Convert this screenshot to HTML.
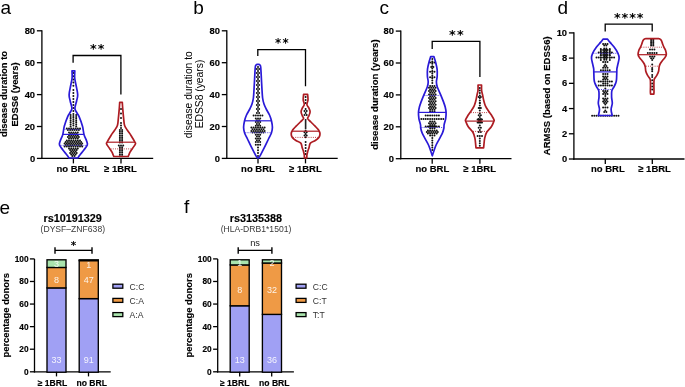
<!DOCTYPE html>
<html><head><meta charset="utf-8"><title>Figure</title>
<style>
html,body{margin:0;padding:0;background:#fff;}
body{width:685px;height:387px;overflow:hidden;}
svg{display:block;}
text{font-family:'Liberation Sans', Arial, sans-serif;}
text.k{stroke:#000;stroke-width:0.15px;}
</style></head>
<body>
<svg width="685" height="387" viewBox="0 0 685 387">
<rect width="685" height="387" fill="#fff"/>
<text x="0.50" y="14.30" font-size="19" text-anchor="start" fill="#000">a</text>
<text x="193.20" y="14.00" font-size="19" text-anchor="start" fill="#000">b</text>
<text x="379.50" y="13.60" font-size="19" text-anchor="start" fill="#000">c</text>
<text x="557.50" y="13.60" font-size="19" text-anchor="start" fill="#000">d</text>
<text x="-0.50" y="213.60" font-size="19" text-anchor="start" fill="#000">e</text>
<text x="184.00" y="213.30" font-size="19" text-anchor="start" fill="#000">f</text>
<line x1="41.90" y1="30.15" x2="41.90" y2="159.05" stroke="#000" stroke-width="1.3"/>
<line x1="41.25" y1="158.40" x2="153.20" y2="158.40" stroke="#000" stroke-width="1.3"/>
<line x1="36.90" y1="158.40" x2="41.90" y2="158.40" stroke="#000" stroke-width="1.3"/>
<text class="k" x="35.10" y="161.50" font-size="9.4" font-weight="bold" text-anchor="end" fill="#000">0</text>
<line x1="36.90" y1="126.50" x2="41.90" y2="126.50" stroke="#000" stroke-width="1.3"/>
<text class="k" x="35.10" y="129.60" font-size="9.4" font-weight="bold" text-anchor="end" fill="#000">20</text>
<line x1="36.90" y1="94.60" x2="41.90" y2="94.60" stroke="#000" stroke-width="1.3"/>
<text class="k" x="35.10" y="97.70" font-size="9.4" font-weight="bold" text-anchor="end" fill="#000">40</text>
<line x1="36.90" y1="62.70" x2="41.90" y2="62.70" stroke="#000" stroke-width="1.3"/>
<text class="k" x="35.10" y="65.80" font-size="9.4" font-weight="bold" text-anchor="end" fill="#000">60</text>
<line x1="36.90" y1="30.80" x2="41.90" y2="30.80" stroke="#000" stroke-width="1.3"/>
<text class="k" x="35.10" y="33.90" font-size="9.4" font-weight="bold" text-anchor="end" fill="#000">80</text>
<line x1="73.40" y1="158.40" x2="73.40" y2="163.40" stroke="#000" stroke-width="1.3"/>
<line x1="121.00" y1="158.40" x2="121.00" y2="163.40" stroke="#000" stroke-width="1.3"/>
<text class="k" x="73.30" y="171.80" font-size="9.5" font-weight="bold" text-anchor="middle" fill="#000">no BRL</text>
<text class="k" x="120.40" y="171.80" font-size="9.5" font-weight="bold" text-anchor="middle" fill="#000">≥ 1BRL</text>
<text class="k" x="7.40" y="94.00" font-size="9.4" font-weight="bold" text-anchor="middle" fill="#000" transform="rotate(-90 7.4 94.0)">disease duration to</text>
<text class="k" x="18.20" y="94.50" font-size="9.4" font-weight="bold" text-anchor="middle" fill="#000" transform="rotate(-90 18.2 94.5)">EDSS6 (years)</text>
<polyline points="73.1,62.7 73.1,55.5 120.9,55.5 120.9,94.6" fill="none" stroke="#000" stroke-width="1.3"/>
<text x="93.30" y="53.44" font-size="12.8" font-weight="bold" text-anchor="middle" fill="#000" style="font-family:'DejaVu Sans',sans-serif">*</text>
<text x="101.10" y="53.44" font-size="12.8" font-weight="bold" text-anchor="middle" fill="#000" style="font-family:'DejaVu Sans',sans-serif">*</text>
<circle cx="73.40" cy="73.00" r="1.0" fill="#111"/>
<circle cx="73.40" cy="76.20" r="1.0" fill="#111"/>
<circle cx="73.40" cy="79.40" r="1.0" fill="#111"/>
<circle cx="73.40" cy="82.60" r="1.0" fill="#111"/>
<circle cx="73.40" cy="85.80" r="1.0" fill="#111"/>
<circle cx="73.40" cy="90.00" r="1.0" fill="#111"/>
<circle cx="73.40" cy="93.00" r="1.0" fill="#111"/>
<circle cx="73.40" cy="96.00" r="1.0" fill="#111"/>
<circle cx="73.40" cy="99.00" r="1.0" fill="#111"/>
<circle cx="73.40" cy="102.00" r="1.0" fill="#111"/>
<circle cx="73.40" cy="105.00" r="1.0" fill="#111"/>
<circle cx="73.40" cy="108.00" r="1.0" fill="#111"/>
<circle cx="73.40" cy="111.00" r="1.0" fill="#111"/>
<circle cx="66.80" cy="128.50" r="1.0" fill="#111"/>
<circle cx="69.00" cy="128.50" r="1.0" fill="#111"/>
<circle cx="71.20" cy="128.50" r="1.0" fill="#111"/>
<circle cx="73.40" cy="128.50" r="1.0" fill="#111"/>
<circle cx="75.60" cy="128.50" r="1.0" fill="#111"/>
<circle cx="77.80" cy="128.50" r="1.0" fill="#111"/>
<circle cx="80.00" cy="128.50" r="1.0" fill="#111"/>
<circle cx="67.90" cy="130.10" r="1.0" fill="#111"/>
<circle cx="70.10" cy="130.10" r="1.0" fill="#111"/>
<circle cx="72.30" cy="130.10" r="1.0" fill="#111"/>
<circle cx="74.50" cy="130.10" r="1.0" fill="#111"/>
<circle cx="76.70" cy="130.10" r="1.0" fill="#111"/>
<circle cx="78.90" cy="130.10" r="1.0" fill="#111"/>
<circle cx="69.00" cy="132.50" r="1.0" fill="#111"/>
<circle cx="71.20" cy="132.50" r="1.0" fill="#111"/>
<circle cx="73.40" cy="132.50" r="1.0" fill="#111"/>
<circle cx="75.60" cy="132.50" r="1.0" fill="#111"/>
<circle cx="77.80" cy="132.50" r="1.0" fill="#111"/>
<circle cx="70.10" cy="134.00" r="1.0" fill="#111"/>
<circle cx="72.30" cy="134.00" r="1.0" fill="#111"/>
<circle cx="74.50" cy="134.00" r="1.0" fill="#111"/>
<circle cx="76.70" cy="134.00" r="1.0" fill="#111"/>
<circle cx="69.00" cy="135.50" r="1.0" fill="#111"/>
<circle cx="71.20" cy="135.50" r="1.0" fill="#111"/>
<circle cx="73.40" cy="135.50" r="1.0" fill="#111"/>
<circle cx="75.60" cy="135.50" r="1.0" fill="#111"/>
<circle cx="77.80" cy="135.50" r="1.0" fill="#111"/>
<circle cx="67.90" cy="137.00" r="1.0" fill="#111"/>
<circle cx="70.10" cy="137.00" r="1.0" fill="#111"/>
<circle cx="72.30" cy="137.00" r="1.0" fill="#111"/>
<circle cx="74.50" cy="137.00" r="1.0" fill="#111"/>
<circle cx="76.70" cy="137.00" r="1.0" fill="#111"/>
<circle cx="78.90" cy="137.00" r="1.0" fill="#111"/>
<circle cx="69.00" cy="138.50" r="1.0" fill="#111"/>
<circle cx="71.20" cy="138.50" r="1.0" fill="#111"/>
<circle cx="73.40" cy="138.50" r="1.0" fill="#111"/>
<circle cx="75.60" cy="138.50" r="1.0" fill="#111"/>
<circle cx="77.80" cy="138.50" r="1.0" fill="#111"/>
<circle cx="66.80" cy="140.50" r="1.0" fill="#111"/>
<circle cx="69.00" cy="140.50" r="1.0" fill="#111"/>
<circle cx="71.20" cy="140.50" r="1.0" fill="#111"/>
<circle cx="73.40" cy="140.50" r="1.0" fill="#111"/>
<circle cx="75.60" cy="140.50" r="1.0" fill="#111"/>
<circle cx="77.80" cy="140.50" r="1.0" fill="#111"/>
<circle cx="80.00" cy="140.50" r="1.0" fill="#111"/>
<circle cx="65.70" cy="142.00" r="1.0" fill="#111"/>
<circle cx="67.90" cy="142.00" r="1.0" fill="#111"/>
<circle cx="70.10" cy="142.00" r="1.0" fill="#111"/>
<circle cx="72.30" cy="142.00" r="1.0" fill="#111"/>
<circle cx="74.50" cy="142.00" r="1.0" fill="#111"/>
<circle cx="76.70" cy="142.00" r="1.0" fill="#111"/>
<circle cx="78.90" cy="142.00" r="1.0" fill="#111"/>
<circle cx="81.10" cy="142.00" r="1.0" fill="#111"/>
<circle cx="64.60" cy="143.50" r="1.0" fill="#111"/>
<circle cx="66.80" cy="143.50" r="1.0" fill="#111"/>
<circle cx="69.00" cy="143.50" r="1.0" fill="#111"/>
<circle cx="71.20" cy="143.50" r="1.0" fill="#111"/>
<circle cx="73.40" cy="143.50" r="1.0" fill="#111"/>
<circle cx="75.60" cy="143.50" r="1.0" fill="#111"/>
<circle cx="77.80" cy="143.50" r="1.0" fill="#111"/>
<circle cx="80.00" cy="143.50" r="1.0" fill="#111"/>
<circle cx="82.20" cy="143.50" r="1.0" fill="#111"/>
<circle cx="65.70" cy="145.00" r="1.0" fill="#111"/>
<circle cx="67.90" cy="145.00" r="1.0" fill="#111"/>
<circle cx="70.10" cy="145.00" r="1.0" fill="#111"/>
<circle cx="72.30" cy="145.00" r="1.0" fill="#111"/>
<circle cx="74.50" cy="145.00" r="1.0" fill="#111"/>
<circle cx="76.70" cy="145.00" r="1.0" fill="#111"/>
<circle cx="78.90" cy="145.00" r="1.0" fill="#111"/>
<circle cx="81.10" cy="145.00" r="1.0" fill="#111"/>
<circle cx="64.60" cy="146.50" r="1.0" fill="#111"/>
<circle cx="66.80" cy="146.50" r="1.0" fill="#111"/>
<circle cx="69.00" cy="146.50" r="1.0" fill="#111"/>
<circle cx="71.20" cy="146.50" r="1.0" fill="#111"/>
<circle cx="73.40" cy="146.50" r="1.0" fill="#111"/>
<circle cx="75.60" cy="146.50" r="1.0" fill="#111"/>
<circle cx="77.80" cy="146.50" r="1.0" fill="#111"/>
<circle cx="80.00" cy="146.50" r="1.0" fill="#111"/>
<circle cx="82.20" cy="146.50" r="1.0" fill="#111"/>
<circle cx="69.00" cy="148.50" r="1.0" fill="#111"/>
<circle cx="71.20" cy="148.50" r="1.0" fill="#111"/>
<circle cx="73.40" cy="148.50" r="1.0" fill="#111"/>
<circle cx="75.60" cy="148.50" r="1.0" fill="#111"/>
<circle cx="77.80" cy="148.50" r="1.0" fill="#111"/>
<circle cx="70.10" cy="150.00" r="1.0" fill="#111"/>
<circle cx="72.30" cy="150.00" r="1.0" fill="#111"/>
<circle cx="74.50" cy="150.00" r="1.0" fill="#111"/>
<circle cx="76.70" cy="150.00" r="1.0" fill="#111"/>
<circle cx="71.20" cy="151.50" r="1.0" fill="#111"/>
<circle cx="73.40" cy="151.50" r="1.0" fill="#111"/>
<circle cx="75.60" cy="151.50" r="1.0" fill="#111"/>
<circle cx="70.10" cy="153.00" r="1.0" fill="#111"/>
<circle cx="72.30" cy="153.00" r="1.0" fill="#111"/>
<circle cx="74.50" cy="153.00" r="1.0" fill="#111"/>
<circle cx="76.70" cy="153.00" r="1.0" fill="#111"/>
<circle cx="71.20" cy="154.50" r="1.0" fill="#111"/>
<circle cx="73.40" cy="154.50" r="1.0" fill="#111"/>
<circle cx="75.60" cy="154.50" r="1.0" fill="#111"/>
<circle cx="72.30" cy="156.00" r="1.0" fill="#111"/>
<circle cx="74.50" cy="156.00" r="1.0" fill="#111"/>
<circle cx="121.00" cy="109.00" r="1.0" fill="#111"/>
<circle cx="121.00" cy="113.50" r="1.0" fill="#111"/>
<circle cx="121.00" cy="118.00" r="1.0" fill="#111"/>
<circle cx="121.00" cy="123.00" r="1.0" fill="#111"/>
<circle cx="121.00" cy="125.50" r="1.0" fill="#111"/>
<circle cx="121.00" cy="128.00" r="1.0" fill="#111"/>
<circle cx="119.90" cy="130.00" r="1.0" fill="#111"/>
<circle cx="122.10" cy="130.00" r="1.0" fill="#111"/>
<circle cx="119.90" cy="131.80" r="1.0" fill="#111"/>
<circle cx="122.10" cy="131.80" r="1.0" fill="#111"/>
<circle cx="119.90" cy="133.60" r="1.0" fill="#111"/>
<circle cx="122.10" cy="133.60" r="1.0" fill="#111"/>
<circle cx="119.90" cy="135.40" r="1.0" fill="#111"/>
<circle cx="122.10" cy="135.40" r="1.0" fill="#111"/>
<circle cx="119.90" cy="137.20" r="1.0" fill="#111"/>
<circle cx="122.10" cy="137.20" r="1.0" fill="#111"/>
<circle cx="119.90" cy="139.00" r="1.0" fill="#111"/>
<circle cx="122.10" cy="139.00" r="1.0" fill="#111"/>
<circle cx="119.90" cy="140.80" r="1.0" fill="#111"/>
<circle cx="122.10" cy="140.80" r="1.0" fill="#111"/>
<circle cx="119.90" cy="142.60" r="1.0" fill="#111"/>
<circle cx="122.10" cy="142.60" r="1.0" fill="#111"/>
<circle cx="118.80" cy="145.50" r="1.0" fill="#111"/>
<circle cx="121.00" cy="145.50" r="1.0" fill="#111"/>
<circle cx="123.20" cy="145.50" r="1.0" fill="#111"/>
<circle cx="119.90" cy="147.20" r="1.0" fill="#111"/>
<circle cx="122.10" cy="147.20" r="1.0" fill="#111"/>
<circle cx="119.90" cy="149.00" r="1.0" fill="#111"/>
<circle cx="122.10" cy="149.00" r="1.0" fill="#111"/>
<circle cx="119.90" cy="150.80" r="1.0" fill="#111"/>
<circle cx="122.10" cy="150.80" r="1.0" fill="#111"/>
<circle cx="119.90" cy="152.60" r="1.0" fill="#111"/>
<circle cx="122.10" cy="152.60" r="1.0" fill="#111"/>
<circle cx="119.90" cy="154.40" r="1.0" fill="#111"/>
<circle cx="122.10" cy="154.40" r="1.0" fill="#111"/>
<circle cx="119.90" cy="156.20" r="1.0" fill="#111"/>
<circle cx="122.10" cy="156.20" r="1.0" fill="#111"/>
<circle cx="70.60" cy="115.00" r="1.0" fill="#111"/>
<circle cx="70.60" cy="116.90" r="1.0" fill="#111"/>
<circle cx="70.60" cy="118.80" r="1.0" fill="#111"/>
<circle cx="70.60" cy="120.70" r="1.0" fill="#111"/>
<circle cx="70.60" cy="122.60" r="1.0" fill="#111"/>
<circle cx="70.60" cy="124.50" r="1.0" fill="#111"/>
<circle cx="70.60" cy="126.40" r="1.0" fill="#111"/>
<circle cx="73.40" cy="114.00" r="1.0" fill="#111"/>
<circle cx="73.40" cy="115.90" r="1.0" fill="#111"/>
<circle cx="73.40" cy="117.80" r="1.0" fill="#111"/>
<circle cx="73.40" cy="119.70" r="1.0" fill="#111"/>
<circle cx="73.40" cy="121.60" r="1.0" fill="#111"/>
<circle cx="73.40" cy="123.50" r="1.0" fill="#111"/>
<circle cx="73.40" cy="125.40" r="1.0" fill="#111"/>
<circle cx="76.20" cy="115.00" r="1.0" fill="#111"/>
<circle cx="76.20" cy="116.90" r="1.0" fill="#111"/>
<circle cx="76.20" cy="118.80" r="1.0" fill="#111"/>
<circle cx="76.20" cy="120.70" r="1.0" fill="#111"/>
<circle cx="76.20" cy="122.60" r="1.0" fill="#111"/>
<circle cx="76.20" cy="124.50" r="1.0" fill="#111"/>
<circle cx="76.20" cy="126.40" r="1.0" fill="#111"/>
<path d="M72.00,70.80 L74.80,70.80 C74.78,72.00 74.47,75.47 74.70,78.00 C74.93,80.53 75.70,83.22 76.20,86.00 C76.70,88.78 77.63,92.20 77.70,94.70 C77.77,97.20 77.07,98.73 76.60,101.00 C76.13,103.27 74.93,106.47 74.90,108.30 C74.87,110.13 75.72,110.65 76.40,112.00 C77.08,113.35 77.98,114.02 79.00,116.40 C80.02,118.78 81.67,123.30 82.50,126.30 C83.33,129.30 83.32,131.95 84.00,134.40 C84.68,136.85 86.05,139.23 86.60,141.00 C87.15,142.77 87.75,143.50 87.30,145.00 C86.85,146.50 85.13,148.33 83.90,150.00 C82.67,151.67 80.93,153.67 79.90,155.00 C78.87,156.33 78.07,157.50 77.70,158.00 L69.10,158.00 C68.73,157.50 67.93,156.33 66.90,155.00 C65.87,153.67 64.13,151.67 62.90,150.00 C61.67,148.33 59.95,146.50 59.50,145.00 C59.05,143.50 59.65,142.77 60.20,141.00 C60.75,139.23 62.12,136.85 62.80,134.40 C63.48,131.95 63.47,129.30 64.30,126.30 C65.13,123.30 66.78,118.78 67.80,116.40 C68.82,114.02 69.72,113.35 70.40,112.00 C71.08,110.65 71.93,110.13 71.90,108.30 C71.87,106.47 70.67,103.27 70.20,101.00 C69.73,98.73 69.03,97.20 69.10,94.70 C69.17,92.20 70.10,88.78 70.60,86.00 C71.10,83.22 71.87,80.53 72.10,78.00 C72.33,75.47 72.02,72.00 72.00,70.80 Z" fill="none" stroke="#2a1ad8" stroke-width="1.7" stroke-linejoin="round"/>
<path d="M119.70,102.30 L122.30,102.30 C122.37,103.32 122.45,105.45 122.70,108.40 C122.95,111.35 123.48,117.15 123.80,120.00 C124.12,122.85 124.00,123.78 124.60,125.50 C125.20,127.22 126.33,128.63 127.40,130.30 C128.47,131.97 129.75,133.52 131.00,135.50 C132.25,137.48 134.17,140.78 134.90,142.20 C135.63,143.62 135.78,142.98 135.40,144.00 C135.02,145.02 133.50,146.93 132.60,148.30 C131.70,149.67 130.63,151.08 130.00,152.20 C129.37,153.32 129.10,154.28 128.80,155.00 C128.50,155.72 128.30,156.25 128.20,156.50 L113.80,156.50 C113.70,156.25 113.50,155.72 113.20,155.00 C112.90,154.28 112.63,153.32 112.00,152.20 C111.37,151.08 110.30,149.67 109.40,148.30 C108.50,146.93 106.98,145.02 106.60,144.00 C106.22,142.98 106.37,143.62 107.10,142.20 C107.83,140.78 109.75,137.48 111.00,135.50 C112.25,133.52 113.53,131.97 114.60,130.30 C115.67,128.63 116.80,127.22 117.40,125.50 C118.00,123.78 117.88,122.85 118.20,120.00 C118.52,117.15 119.05,111.35 119.30,108.40 C119.55,105.45 119.63,103.32 119.70,102.30 Z" fill="none" stroke="#ad1c22" stroke-width="1.7" stroke-linejoin="round"/>
<line x1="62.80" y1="134.40" x2="84.00" y2="134.40" stroke="#2a1ad8" stroke-width="1.2"/>
<line x1="60.57" y1="145.40" x2="86.23" y2="145.40" stroke="#2a1ad8" stroke-width="0.9" stroke-dasharray="0.9 1.3"/>
<line x1="64.53" y1="129.40" x2="82.27" y2="129.40" stroke="#2a1ad8" stroke-width="0.9" stroke-dasharray="0.9 1.3"/>
<line x1="107.10" y1="142.20" x2="134.90" y2="142.20" stroke="#ad1c22" stroke-width="1.2"/>
<line x1="110.60" y1="148.90" x2="131.40" y2="148.90" stroke="#ad1c22" stroke-width="0.9" stroke-dasharray="0.9 1.3"/>
<line x1="226.80" y1="30.15" x2="226.80" y2="159.05" stroke="#000" stroke-width="1.3"/>
<line x1="226.15" y1="158.40" x2="337.70" y2="158.40" stroke="#000" stroke-width="1.3"/>
<line x1="221.80" y1="158.40" x2="226.80" y2="158.40" stroke="#000" stroke-width="1.3"/>
<text class="k" x="220.00" y="161.50" font-size="9.4" font-weight="bold" text-anchor="end" fill="#000">0</text>
<line x1="221.80" y1="126.50" x2="226.80" y2="126.50" stroke="#000" stroke-width="1.3"/>
<text class="k" x="220.00" y="129.60" font-size="9.4" font-weight="bold" text-anchor="end" fill="#000">20</text>
<line x1="221.80" y1="94.60" x2="226.80" y2="94.60" stroke="#000" stroke-width="1.3"/>
<text class="k" x="220.00" y="97.70" font-size="9.4" font-weight="bold" text-anchor="end" fill="#000">40</text>
<line x1="221.80" y1="62.70" x2="226.80" y2="62.70" stroke="#000" stroke-width="1.3"/>
<text class="k" x="220.00" y="65.80" font-size="9.4" font-weight="bold" text-anchor="end" fill="#000">60</text>
<line x1="221.80" y1="30.80" x2="226.80" y2="30.80" stroke="#000" stroke-width="1.3"/>
<text class="k" x="220.00" y="33.90" font-size="9.4" font-weight="bold" text-anchor="end" fill="#000">80</text>
<line x1="258.00" y1="158.40" x2="258.00" y2="163.40" stroke="#000" stroke-width="1.3"/>
<line x1="305.50" y1="158.40" x2="305.50" y2="163.40" stroke="#000" stroke-width="1.3"/>
<text class="k" x="258.00" y="171.80" font-size="9.5" font-weight="bold" text-anchor="middle" fill="#000">no BRL</text>
<text class="k" x="305.40" y="171.80" font-size="9.5" font-weight="bold" text-anchor="middle" fill="#000">≥ 1BRL</text>
<text x="192.20" y="94.70" font-size="10.3" text-anchor="middle" fill="#000" transform="rotate(-90 192.2 94.7)">disease duration to</text>
<text x="202.80" y="94.00" font-size="10.3" text-anchor="middle" fill="#000" transform="rotate(-90 202.8 94.0)">EDSS8 (years)</text>
<polyline points="257.8,56.1 257.8,49.7 305.5,49.7 305.5,86.3" fill="none" stroke="#000" stroke-width="1.3"/>
<text x="278.00" y="47.39" font-size="11.8" font-weight="bold" text-anchor="middle" fill="#000" style="font-family:'DejaVu Sans',sans-serif">*</text>
<text x="285.50" y="47.39" font-size="11.8" font-weight="bold" text-anchor="middle" fill="#000" style="font-family:'DejaVu Sans',sans-serif">*</text>
<circle cx="258.00" cy="67.00" r="1.0" fill="#111"/>
<circle cx="256.90" cy="69.00" r="1.0" fill="#111"/>
<circle cx="259.10" cy="69.00" r="1.0" fill="#111"/>
<circle cx="258.00" cy="71.00" r="1.0" fill="#111"/>
<circle cx="256.90" cy="73.00" r="1.0" fill="#111"/>
<circle cx="259.10" cy="73.00" r="1.0" fill="#111"/>
<circle cx="258.00" cy="75.00" r="1.0" fill="#111"/>
<circle cx="256.90" cy="77.00" r="1.0" fill="#111"/>
<circle cx="259.10" cy="77.00" r="1.0" fill="#111"/>
<circle cx="258.00" cy="79.00" r="1.0" fill="#111"/>
<circle cx="256.90" cy="81.00" r="1.0" fill="#111"/>
<circle cx="259.10" cy="81.00" r="1.0" fill="#111"/>
<circle cx="258.00" cy="83.00" r="1.0" fill="#111"/>
<circle cx="256.90" cy="85.00" r="1.0" fill="#111"/>
<circle cx="259.10" cy="85.00" r="1.0" fill="#111"/>
<circle cx="258.00" cy="87.00" r="1.0" fill="#111"/>
<circle cx="256.90" cy="89.00" r="1.0" fill="#111"/>
<circle cx="259.10" cy="89.00" r="1.0" fill="#111"/>
<circle cx="258.00" cy="91.00" r="1.0" fill="#111"/>
<circle cx="256.90" cy="93.00" r="1.0" fill="#111"/>
<circle cx="259.10" cy="93.00" r="1.0" fill="#111"/>
<circle cx="258.00" cy="95.00" r="1.0" fill="#111"/>
<circle cx="256.90" cy="97.00" r="1.0" fill="#111"/>
<circle cx="259.10" cy="97.00" r="1.0" fill="#111"/>
<circle cx="258.00" cy="99.00" r="1.0" fill="#111"/>
<circle cx="256.90" cy="101.00" r="1.0" fill="#111"/>
<circle cx="259.10" cy="101.00" r="1.0" fill="#111"/>
<circle cx="258.00" cy="103.00" r="1.0" fill="#111"/>
<circle cx="256.90" cy="105.00" r="1.0" fill="#111"/>
<circle cx="259.10" cy="105.00" r="1.0" fill="#111"/>
<circle cx="258.00" cy="107.00" r="1.0" fill="#111"/>
<circle cx="256.90" cy="109.00" r="1.0" fill="#111"/>
<circle cx="259.10" cy="109.00" r="1.0" fill="#111"/>
<circle cx="258.00" cy="111.00" r="1.0" fill="#111"/>
<circle cx="256.90" cy="113.00" r="1.0" fill="#111"/>
<circle cx="259.10" cy="113.00" r="1.0" fill="#111"/>
<circle cx="253.60" cy="115.50" r="1.0" fill="#111"/>
<circle cx="255.80" cy="115.50" r="1.0" fill="#111"/>
<circle cx="258.00" cy="115.50" r="1.0" fill="#111"/>
<circle cx="260.20" cy="115.50" r="1.0" fill="#111"/>
<circle cx="262.40" cy="115.50" r="1.0" fill="#111"/>
<circle cx="255.80" cy="118.50" r="1.0" fill="#111"/>
<circle cx="258.00" cy="118.50" r="1.0" fill="#111"/>
<circle cx="260.20" cy="118.50" r="1.0" fill="#111"/>
<circle cx="256.90" cy="120.30" r="1.0" fill="#111"/>
<circle cx="259.10" cy="120.30" r="1.0" fill="#111"/>
<circle cx="255.80" cy="122.10" r="1.0" fill="#111"/>
<circle cx="258.00" cy="122.10" r="1.0" fill="#111"/>
<circle cx="260.20" cy="122.10" r="1.0" fill="#111"/>
<circle cx="256.90" cy="123.90" r="1.0" fill="#111"/>
<circle cx="259.10" cy="123.90" r="1.0" fill="#111"/>
<circle cx="255.80" cy="125.70" r="1.0" fill="#111"/>
<circle cx="258.00" cy="125.70" r="1.0" fill="#111"/>
<circle cx="260.20" cy="125.70" r="1.0" fill="#111"/>
<circle cx="251.40" cy="127.50" r="1.0" fill="#111"/>
<circle cx="253.60" cy="127.50" r="1.0" fill="#111"/>
<circle cx="255.80" cy="127.50" r="1.0" fill="#111"/>
<circle cx="258.00" cy="127.50" r="1.0" fill="#111"/>
<circle cx="260.20" cy="127.50" r="1.0" fill="#111"/>
<circle cx="262.40" cy="127.50" r="1.0" fill="#111"/>
<circle cx="264.60" cy="127.50" r="1.0" fill="#111"/>
<circle cx="252.50" cy="129.20" r="1.0" fill="#111"/>
<circle cx="254.70" cy="129.20" r="1.0" fill="#111"/>
<circle cx="256.90" cy="129.20" r="1.0" fill="#111"/>
<circle cx="259.10" cy="129.20" r="1.0" fill="#111"/>
<circle cx="261.30" cy="129.20" r="1.0" fill="#111"/>
<circle cx="263.50" cy="129.20" r="1.0" fill="#111"/>
<circle cx="251.40" cy="130.90" r="1.0" fill="#111"/>
<circle cx="253.60" cy="130.90" r="1.0" fill="#111"/>
<circle cx="255.80" cy="130.90" r="1.0" fill="#111"/>
<circle cx="258.00" cy="130.90" r="1.0" fill="#111"/>
<circle cx="260.20" cy="130.90" r="1.0" fill="#111"/>
<circle cx="262.40" cy="130.90" r="1.0" fill="#111"/>
<circle cx="264.60" cy="130.90" r="1.0" fill="#111"/>
<circle cx="252.50" cy="132.60" r="1.0" fill="#111"/>
<circle cx="254.70" cy="132.60" r="1.0" fill="#111"/>
<circle cx="256.90" cy="132.60" r="1.0" fill="#111"/>
<circle cx="259.10" cy="132.60" r="1.0" fill="#111"/>
<circle cx="261.30" cy="132.60" r="1.0" fill="#111"/>
<circle cx="263.50" cy="132.60" r="1.0" fill="#111"/>
<circle cx="255.80" cy="134.80" r="1.0" fill="#111"/>
<circle cx="258.00" cy="134.80" r="1.0" fill="#111"/>
<circle cx="260.20" cy="134.80" r="1.0" fill="#111"/>
<circle cx="256.90" cy="136.60" r="1.0" fill="#111"/>
<circle cx="259.10" cy="136.60" r="1.0" fill="#111"/>
<circle cx="255.80" cy="138.40" r="1.0" fill="#111"/>
<circle cx="258.00" cy="138.40" r="1.0" fill="#111"/>
<circle cx="260.20" cy="138.40" r="1.0" fill="#111"/>
<circle cx="256.90" cy="140.20" r="1.0" fill="#111"/>
<circle cx="259.10" cy="140.20" r="1.0" fill="#111"/>
<circle cx="255.80" cy="142.00" r="1.0" fill="#111"/>
<circle cx="258.00" cy="142.00" r="1.0" fill="#111"/>
<circle cx="260.20" cy="142.00" r="1.0" fill="#111"/>
<circle cx="255.80" cy="144.80" r="1.0" fill="#111"/>
<circle cx="258.00" cy="144.80" r="1.0" fill="#111"/>
<circle cx="260.20" cy="144.80" r="1.0" fill="#111"/>
<circle cx="258.00" cy="147.50" r="1.0" fill="#111"/>
<circle cx="258.00" cy="150.30" r="1.0" fill="#111"/>
<circle cx="258.00" cy="153.10" r="1.0" fill="#111"/>
<circle cx="258.00" cy="155.90" r="1.0" fill="#111"/>
<circle cx="305.60" cy="97.00" r="1.0" fill="#111"/>
<circle cx="305.60" cy="100.00" r="1.0" fill="#111"/>
<circle cx="305.60" cy="103.00" r="1.0" fill="#111"/>
<circle cx="305.60" cy="109.00" r="1.0" fill="#111"/>
<circle cx="304.50" cy="111.00" r="1.0" fill="#111"/>
<circle cx="306.70" cy="111.00" r="1.0" fill="#111"/>
<circle cx="305.60" cy="113.00" r="1.0" fill="#111"/>
<circle cx="304.50" cy="115.00" r="1.0" fill="#111"/>
<circle cx="306.70" cy="115.00" r="1.0" fill="#111"/>
<circle cx="305.60" cy="120.00" r="1.0" fill="#111"/>
<circle cx="305.60" cy="122.00" r="1.0" fill="#111"/>
<circle cx="305.60" cy="124.00" r="1.0" fill="#111"/>
<circle cx="305.60" cy="126.00" r="1.0" fill="#111"/>
<circle cx="305.60" cy="128.00" r="1.0" fill="#111"/>
<circle cx="305.60" cy="130.50" r="1.0" fill="#111"/>
<circle cx="304.50" cy="132.20" r="1.0" fill="#111"/>
<circle cx="306.70" cy="132.20" r="1.0" fill="#111"/>
<circle cx="305.60" cy="133.90" r="1.0" fill="#111"/>
<circle cx="304.50" cy="135.60" r="1.0" fill="#111"/>
<circle cx="306.70" cy="135.60" r="1.0" fill="#111"/>
<circle cx="305.60" cy="137.30" r="1.0" fill="#111"/>
<circle cx="305.60" cy="142.00" r="1.0" fill="#111"/>
<circle cx="305.60" cy="145.00" r="1.0" fill="#111"/>
<circle cx="305.60" cy="148.00" r="1.0" fill="#111"/>
<circle cx="305.60" cy="151.00" r="1.0" fill="#111"/>
<circle cx="305.60" cy="154.00" r="1.0" fill="#111"/>
<path d="M257.00,64.30 L259.00,64.30 C259.17,64.42 259.72,64.55 260.00,65.00 C260.28,65.45 260.50,65.33 260.70,67.00 C260.90,68.67 261.00,71.50 261.20,75.00 C261.40,78.50 261.67,84.17 261.90,88.00 C262.13,91.83 262.25,95.33 262.60,98.00 C262.95,100.67 263.40,102.17 264.00,104.00 C264.60,105.83 265.28,107.17 266.20,109.00 C267.12,110.83 268.62,113.00 269.50,115.00 C270.38,117.00 271.02,118.92 271.50,121.00 C271.98,123.08 272.42,125.50 272.40,127.50 C272.38,129.50 272.05,131.08 271.40,133.00 C270.75,134.92 269.68,136.55 268.50,139.00 C267.32,141.45 265.62,145.07 264.30,147.70 C262.98,150.33 261.55,153.08 260.60,154.80 C259.65,156.52 258.93,157.47 258.60,158.00 L257.40,158.00 C257.07,157.47 256.35,156.52 255.40,154.80 C254.45,153.08 253.02,150.33 251.70,147.70 C250.38,145.07 248.68,141.45 247.50,139.00 C246.32,136.55 245.25,134.92 244.60,133.00 C243.95,131.08 243.62,129.50 243.60,127.50 C243.58,125.50 244.02,123.08 244.50,121.00 C244.98,118.92 245.62,117.00 246.50,115.00 C247.38,113.00 248.88,110.83 249.80,109.00 C250.72,107.17 251.40,105.83 252.00,104.00 C252.60,102.17 253.05,100.67 253.40,98.00 C253.75,95.33 253.87,91.83 254.10,88.00 C254.33,84.17 254.60,78.50 254.80,75.00 C255.00,71.50 255.10,68.67 255.30,67.00 C255.50,65.33 255.72,65.45 256.00,65.00 C256.28,64.55 256.83,64.42 257.00,64.30 Z" fill="none" stroke="#2a1ad8" stroke-width="1.7" stroke-linejoin="round"/>
<path d="M303.60,94.30 L307.60,94.30 C307.67,95.25 308.12,98.30 308.00,100.00 C307.88,101.70 306.75,103.15 306.90,104.50 C307.05,105.85 308.37,106.90 308.90,108.10 C309.43,109.30 310.10,110.42 310.10,111.70 C310.10,112.98 309.32,114.65 308.90,115.80 C308.48,116.95 307.27,117.57 307.60,118.60 C307.93,119.63 309.65,120.73 310.90,122.00 C312.15,123.27 313.85,124.90 315.10,126.20 C316.35,127.50 317.58,128.53 318.40,129.80 C319.22,131.07 319.92,132.53 320.00,133.80 C320.08,135.07 319.68,136.28 318.90,137.40 C318.12,138.52 316.72,139.55 315.30,140.50 C313.88,141.45 311.45,141.90 310.40,143.10 C309.35,144.30 309.47,146.23 309.00,147.70 C308.53,149.17 307.95,150.68 307.60,151.90 C307.25,153.12 307.03,153.98 306.90,155.00 C306.77,156.02 306.82,157.50 306.80,158.00 L304.40,158.00 C304.38,157.50 304.43,156.02 304.30,155.00 C304.17,153.98 303.95,153.12 303.60,151.90 C303.25,150.68 302.67,149.17 302.20,147.70 C301.73,146.23 301.85,144.30 300.80,143.10 C299.75,141.90 297.32,141.45 295.90,140.50 C294.48,139.55 293.08,138.52 292.30,137.40 C291.52,136.28 291.12,135.07 291.20,133.80 C291.28,132.53 291.98,131.07 292.80,129.80 C293.62,128.53 294.85,127.50 296.10,126.20 C297.35,124.90 299.05,123.27 300.30,122.00 C301.55,120.73 303.27,119.63 303.60,118.60 C303.93,117.57 302.72,116.95 302.30,115.80 C301.88,114.65 301.10,112.98 301.10,111.70 C301.10,110.42 301.77,109.30 302.30,108.10 C302.83,106.90 304.15,105.85 304.30,104.50 C304.45,103.15 303.32,101.70 303.20,100.00 C303.08,98.30 303.53,95.25 303.60,94.30 Z" fill="none" stroke="#ad1c22" stroke-width="1.7" stroke-linejoin="round"/>
<line x1="244.57" y1="120.80" x2="271.43" y2="120.80" stroke="#2a1ad8" stroke-width="1.2"/>
<line x1="245.35" y1="132.70" x2="270.65" y2="132.70" stroke="#2a1ad8" stroke-width="0.9" stroke-dasharray="0.9 1.3"/>
<line x1="292.24" y1="131.20" x2="318.96" y2="131.20" stroke="#ad1c22" stroke-width="1.2"/>
<line x1="293.10" y1="137.40" x2="318.10" y2="137.40" stroke="#ad1c22" stroke-width="0.9" stroke-dasharray="0.9 1.3"/>
<line x1="400.80" y1="30.45" x2="400.80" y2="159.35" stroke="#000" stroke-width="1.3"/>
<line x1="400.15" y1="158.70" x2="511.50" y2="158.70" stroke="#000" stroke-width="1.3"/>
<line x1="395.80" y1="158.70" x2="400.80" y2="158.70" stroke="#000" stroke-width="1.3"/>
<text class="k" x="394.00" y="161.80" font-size="9.4" font-weight="bold" text-anchor="end" fill="#000">0</text>
<line x1="395.80" y1="126.80" x2="400.80" y2="126.80" stroke="#000" stroke-width="1.3"/>
<text class="k" x="394.00" y="129.90" font-size="9.4" font-weight="bold" text-anchor="end" fill="#000">20</text>
<line x1="395.80" y1="94.90" x2="400.80" y2="94.90" stroke="#000" stroke-width="1.3"/>
<text class="k" x="394.00" y="98.00" font-size="9.4" font-weight="bold" text-anchor="end" fill="#000">40</text>
<line x1="395.80" y1="63.00" x2="400.80" y2="63.00" stroke="#000" stroke-width="1.3"/>
<text class="k" x="394.00" y="66.10" font-size="9.4" font-weight="bold" text-anchor="end" fill="#000">60</text>
<line x1="395.80" y1="31.10" x2="400.80" y2="31.10" stroke="#000" stroke-width="1.3"/>
<text class="k" x="394.00" y="34.20" font-size="9.4" font-weight="bold" text-anchor="end" fill="#000">80</text>
<line x1="432.20" y1="158.70" x2="432.20" y2="163.70" stroke="#000" stroke-width="1.3"/>
<line x1="479.90" y1="158.70" x2="479.90" y2="163.70" stroke="#000" stroke-width="1.3"/>
<text class="k" x="432.40" y="172.00" font-size="9.5" font-weight="bold" text-anchor="middle" fill="#000">no BRL</text>
<text class="k" x="479.70" y="172.00" font-size="9.5" font-weight="bold" text-anchor="middle" fill="#000">≥ 1BRL</text>
<text class="k" x="377.60" y="94.60" font-size="9.6" font-weight="bold" text-anchor="middle" fill="#000" transform="rotate(-90 377.6 94.6)">disease duration (years)</text>
<polyline points="432.2,48.9 432.2,41.3 479.9,41.3 479.9,77.1" fill="none" stroke="#000" stroke-width="1.3"/>
<text x="452.30" y="39.24" font-size="12.8" font-weight="bold" text-anchor="middle" fill="#000" style="font-family:'DejaVu Sans',sans-serif">*</text>
<text x="460.30" y="39.24" font-size="12.8" font-weight="bold" text-anchor="middle" fill="#000" style="font-family:'DejaVu Sans',sans-serif">*</text>
<circle cx="432.30" cy="59.00" r="1.0" fill="#111"/>
<circle cx="432.30" cy="61.40" r="1.0" fill="#111"/>
<circle cx="432.30" cy="63.80" r="1.0" fill="#111"/>
<circle cx="432.30" cy="66.20" r="1.0" fill="#111"/>
<circle cx="432.30" cy="68.60" r="1.0" fill="#111"/>
<circle cx="432.30" cy="71.00" r="1.0" fill="#111"/>
<circle cx="432.30" cy="73.40" r="1.0" fill="#111"/>
<circle cx="432.30" cy="75.80" r="1.0" fill="#111"/>
<circle cx="432.30" cy="78.20" r="1.0" fill="#111"/>
<circle cx="432.30" cy="80.60" r="1.0" fill="#111"/>
<circle cx="432.30" cy="83.00" r="1.0" fill="#111"/>
<circle cx="430.10" cy="62.50" r="1.0" fill="#111"/>
<circle cx="432.30" cy="62.50" r="1.0" fill="#111"/>
<circle cx="434.50" cy="62.50" r="1.0" fill="#111"/>
<circle cx="431.20" cy="67.00" r="1.0" fill="#111"/>
<circle cx="433.40" cy="67.00" r="1.0" fill="#111"/>
<circle cx="430.10" cy="71.80" r="1.0" fill="#111"/>
<circle cx="432.30" cy="71.80" r="1.0" fill="#111"/>
<circle cx="434.50" cy="71.80" r="1.0" fill="#111"/>
<circle cx="430.10" cy="77.20" r="1.0" fill="#111"/>
<circle cx="432.30" cy="77.20" r="1.0" fill="#111"/>
<circle cx="434.50" cy="77.20" r="1.0" fill="#111"/>
<circle cx="430.10" cy="86.00" r="1.0" fill="#111"/>
<circle cx="432.30" cy="86.00" r="1.0" fill="#111"/>
<circle cx="434.50" cy="86.00" r="1.0" fill="#111"/>
<circle cx="429.00" cy="87.70" r="1.0" fill="#111"/>
<circle cx="431.20" cy="87.70" r="1.0" fill="#111"/>
<circle cx="433.40" cy="87.70" r="1.0" fill="#111"/>
<circle cx="435.60" cy="87.70" r="1.0" fill="#111"/>
<circle cx="430.10" cy="89.40" r="1.0" fill="#111"/>
<circle cx="432.30" cy="89.40" r="1.0" fill="#111"/>
<circle cx="434.50" cy="89.40" r="1.0" fill="#111"/>
<circle cx="429.00" cy="91.10" r="1.0" fill="#111"/>
<circle cx="431.20" cy="91.10" r="1.0" fill="#111"/>
<circle cx="433.40" cy="91.10" r="1.0" fill="#111"/>
<circle cx="435.60" cy="91.10" r="1.0" fill="#111"/>
<circle cx="430.10" cy="92.80" r="1.0" fill="#111"/>
<circle cx="432.30" cy="92.80" r="1.0" fill="#111"/>
<circle cx="434.50" cy="92.80" r="1.0" fill="#111"/>
<circle cx="429.00" cy="94.50" r="1.0" fill="#111"/>
<circle cx="431.20" cy="94.50" r="1.0" fill="#111"/>
<circle cx="433.40" cy="94.50" r="1.0" fill="#111"/>
<circle cx="435.60" cy="94.50" r="1.0" fill="#111"/>
<circle cx="430.10" cy="96.20" r="1.0" fill="#111"/>
<circle cx="432.30" cy="96.20" r="1.0" fill="#111"/>
<circle cx="434.50" cy="96.20" r="1.0" fill="#111"/>
<circle cx="429.00" cy="97.90" r="1.0" fill="#111"/>
<circle cx="431.20" cy="97.90" r="1.0" fill="#111"/>
<circle cx="433.40" cy="97.90" r="1.0" fill="#111"/>
<circle cx="435.60" cy="97.90" r="1.0" fill="#111"/>
<circle cx="430.10" cy="99.60" r="1.0" fill="#111"/>
<circle cx="432.30" cy="99.60" r="1.0" fill="#111"/>
<circle cx="434.50" cy="99.60" r="1.0" fill="#111"/>
<circle cx="429.00" cy="101.30" r="1.0" fill="#111"/>
<circle cx="431.20" cy="101.30" r="1.0" fill="#111"/>
<circle cx="433.40" cy="101.30" r="1.0" fill="#111"/>
<circle cx="435.60" cy="101.30" r="1.0" fill="#111"/>
<circle cx="430.10" cy="103.00" r="1.0" fill="#111"/>
<circle cx="432.30" cy="103.00" r="1.0" fill="#111"/>
<circle cx="434.50" cy="103.00" r="1.0" fill="#111"/>
<circle cx="429.00" cy="104.70" r="1.0" fill="#111"/>
<circle cx="431.20" cy="104.70" r="1.0" fill="#111"/>
<circle cx="433.40" cy="104.70" r="1.0" fill="#111"/>
<circle cx="435.60" cy="104.70" r="1.0" fill="#111"/>
<circle cx="430.10" cy="106.40" r="1.0" fill="#111"/>
<circle cx="432.30" cy="106.40" r="1.0" fill="#111"/>
<circle cx="434.50" cy="106.40" r="1.0" fill="#111"/>
<circle cx="429.00" cy="108.10" r="1.0" fill="#111"/>
<circle cx="431.20" cy="108.10" r="1.0" fill="#111"/>
<circle cx="433.40" cy="108.10" r="1.0" fill="#111"/>
<circle cx="435.60" cy="108.10" r="1.0" fill="#111"/>
<circle cx="430.10" cy="109.80" r="1.0" fill="#111"/>
<circle cx="432.30" cy="109.80" r="1.0" fill="#111"/>
<circle cx="434.50" cy="109.80" r="1.0" fill="#111"/>
<circle cx="430.10" cy="111.50" r="1.0" fill="#111"/>
<circle cx="432.30" cy="111.50" r="1.0" fill="#111"/>
<circle cx="434.50" cy="111.50" r="1.0" fill="#111"/>
<circle cx="425.70" cy="115.50" r="1.0" fill="#111"/>
<circle cx="427.90" cy="115.50" r="1.0" fill="#111"/>
<circle cx="430.10" cy="115.50" r="1.0" fill="#111"/>
<circle cx="432.30" cy="115.50" r="1.0" fill="#111"/>
<circle cx="434.50" cy="115.50" r="1.0" fill="#111"/>
<circle cx="436.70" cy="115.50" r="1.0" fill="#111"/>
<circle cx="438.90" cy="115.50" r="1.0" fill="#111"/>
<circle cx="421.30" cy="119.00" r="1.0" fill="#111"/>
<circle cx="423.50" cy="119.00" r="1.0" fill="#111"/>
<circle cx="425.70" cy="119.00" r="1.0" fill="#111"/>
<circle cx="427.90" cy="119.00" r="1.0" fill="#111"/>
<circle cx="430.10" cy="119.00" r="1.0" fill="#111"/>
<circle cx="432.30" cy="119.00" r="1.0" fill="#111"/>
<circle cx="434.50" cy="119.00" r="1.0" fill="#111"/>
<circle cx="436.70" cy="119.00" r="1.0" fill="#111"/>
<circle cx="438.90" cy="119.00" r="1.0" fill="#111"/>
<circle cx="441.10" cy="119.00" r="1.0" fill="#111"/>
<circle cx="443.30" cy="119.00" r="1.0" fill="#111"/>
<circle cx="430.10" cy="121.50" r="1.0" fill="#111"/>
<circle cx="432.30" cy="121.50" r="1.0" fill="#111"/>
<circle cx="434.50" cy="121.50" r="1.0" fill="#111"/>
<circle cx="429.00" cy="123.20" r="1.0" fill="#111"/>
<circle cx="431.20" cy="123.20" r="1.0" fill="#111"/>
<circle cx="433.40" cy="123.20" r="1.0" fill="#111"/>
<circle cx="435.60" cy="123.20" r="1.0" fill="#111"/>
<circle cx="430.10" cy="124.90" r="1.0" fill="#111"/>
<circle cx="432.30" cy="124.90" r="1.0" fill="#111"/>
<circle cx="434.50" cy="124.90" r="1.0" fill="#111"/>
<circle cx="429.00" cy="126.60" r="1.0" fill="#111"/>
<circle cx="431.20" cy="126.60" r="1.0" fill="#111"/>
<circle cx="433.40" cy="126.60" r="1.0" fill="#111"/>
<circle cx="435.60" cy="126.60" r="1.0" fill="#111"/>
<circle cx="430.10" cy="128.30" r="1.0" fill="#111"/>
<circle cx="432.30" cy="128.30" r="1.0" fill="#111"/>
<circle cx="434.50" cy="128.30" r="1.0" fill="#111"/>
<circle cx="425.70" cy="126.50" r="1.0" fill="#111"/>
<circle cx="427.90" cy="126.50" r="1.0" fill="#111"/>
<circle cx="430.10" cy="126.50" r="1.0" fill="#111"/>
<circle cx="432.30" cy="126.50" r="1.0" fill="#111"/>
<circle cx="434.50" cy="126.50" r="1.0" fill="#111"/>
<circle cx="436.70" cy="126.50" r="1.0" fill="#111"/>
<circle cx="438.90" cy="126.50" r="1.0" fill="#111"/>
<circle cx="427.90" cy="130.50" r="1.0" fill="#111"/>
<circle cx="430.10" cy="130.50" r="1.0" fill="#111"/>
<circle cx="432.30" cy="130.50" r="1.0" fill="#111"/>
<circle cx="434.50" cy="130.50" r="1.0" fill="#111"/>
<circle cx="436.70" cy="130.50" r="1.0" fill="#111"/>
<circle cx="426.80" cy="132.00" r="1.0" fill="#111"/>
<circle cx="429.00" cy="132.00" r="1.0" fill="#111"/>
<circle cx="431.20" cy="132.00" r="1.0" fill="#111"/>
<circle cx="433.40" cy="132.00" r="1.0" fill="#111"/>
<circle cx="435.60" cy="132.00" r="1.0" fill="#111"/>
<circle cx="437.80" cy="132.00" r="1.0" fill="#111"/>
<circle cx="427.90" cy="133.50" r="1.0" fill="#111"/>
<circle cx="430.10" cy="133.50" r="1.0" fill="#111"/>
<circle cx="432.30" cy="133.50" r="1.0" fill="#111"/>
<circle cx="434.50" cy="133.50" r="1.0" fill="#111"/>
<circle cx="436.70" cy="133.50" r="1.0" fill="#111"/>
<circle cx="430.10" cy="135.50" r="1.0" fill="#111"/>
<circle cx="432.30" cy="135.50" r="1.0" fill="#111"/>
<circle cx="434.50" cy="135.50" r="1.0" fill="#111"/>
<circle cx="432.30" cy="138.00" r="1.0" fill="#111"/>
<circle cx="432.30" cy="140.40" r="1.0" fill="#111"/>
<circle cx="432.30" cy="142.80" r="1.0" fill="#111"/>
<circle cx="432.30" cy="145.20" r="1.0" fill="#111"/>
<circle cx="432.30" cy="147.60" r="1.0" fill="#111"/>
<circle cx="432.30" cy="150.00" r="1.0" fill="#111"/>
<circle cx="479.80" cy="88.00" r="1.0" fill="#111"/>
<circle cx="479.80" cy="90.50" r="1.0" fill="#111"/>
<circle cx="479.80" cy="93.00" r="1.0" fill="#111"/>
<circle cx="479.80" cy="95.50" r="1.0" fill="#111"/>
<circle cx="479.80" cy="98.00" r="1.0" fill="#111"/>
<circle cx="479.80" cy="100.50" r="1.0" fill="#111"/>
<circle cx="479.80" cy="103.00" r="1.0" fill="#111"/>
<circle cx="479.80" cy="105.50" r="1.0" fill="#111"/>
<circle cx="479.80" cy="108.00" r="1.0" fill="#111"/>
<circle cx="479.80" cy="110.50" r="1.0" fill="#111"/>
<circle cx="478.70" cy="97.00" r="1.0" fill="#111"/>
<circle cx="480.90" cy="97.00" r="1.0" fill="#111"/>
<circle cx="479.80" cy="103.00" r="1.0" fill="#111"/>
<circle cx="478.70" cy="108.00" r="1.0" fill="#111"/>
<circle cx="480.90" cy="108.00" r="1.0" fill="#111"/>
<circle cx="479.80" cy="113.50" r="1.0" fill="#111"/>
<circle cx="478.70" cy="115.30" r="1.0" fill="#111"/>
<circle cx="480.90" cy="115.30" r="1.0" fill="#111"/>
<circle cx="479.80" cy="117.10" r="1.0" fill="#111"/>
<circle cx="478.70" cy="118.90" r="1.0" fill="#111"/>
<circle cx="480.90" cy="118.90" r="1.0" fill="#111"/>
<circle cx="479.80" cy="120.70" r="1.0" fill="#111"/>
<circle cx="478.70" cy="122.50" r="1.0" fill="#111"/>
<circle cx="480.90" cy="122.50" r="1.0" fill="#111"/>
<circle cx="477.60" cy="119.50" r="1.0" fill="#111"/>
<circle cx="479.80" cy="119.50" r="1.0" fill="#111"/>
<circle cx="482.00" cy="119.50" r="1.0" fill="#111"/>
<circle cx="478.70" cy="121.00" r="1.0" fill="#111"/>
<circle cx="480.90" cy="121.00" r="1.0" fill="#111"/>
<circle cx="477.60" cy="122.50" r="1.0" fill="#111"/>
<circle cx="479.80" cy="122.50" r="1.0" fill="#111"/>
<circle cx="482.00" cy="122.50" r="1.0" fill="#111"/>
<circle cx="479.80" cy="125.50" r="1.0" fill="#111"/>
<circle cx="478.70" cy="127.70" r="1.0" fill="#111"/>
<circle cx="480.90" cy="127.70" r="1.0" fill="#111"/>
<circle cx="479.80" cy="129.90" r="1.0" fill="#111"/>
<circle cx="478.70" cy="132.10" r="1.0" fill="#111"/>
<circle cx="480.90" cy="132.10" r="1.0" fill="#111"/>
<circle cx="477.60" cy="136.00" r="1.0" fill="#111"/>
<circle cx="479.80" cy="136.00" r="1.0" fill="#111"/>
<circle cx="482.00" cy="136.00" r="1.0" fill="#111"/>
<circle cx="479.80" cy="138.50" r="1.0" fill="#111"/>
<circle cx="479.80" cy="140.90" r="1.0" fill="#111"/>
<circle cx="479.80" cy="143.30" r="1.0" fill="#111"/>
<circle cx="479.80" cy="145.70" r="1.0" fill="#111"/>
<path d="M430.70,56.60 L433.90,56.60 C434.18,57.52 435.07,60.00 435.60,62.10 C436.13,64.20 436.83,66.83 437.10,69.20 C437.37,71.57 437.32,74.17 437.20,76.30 C437.08,78.43 436.38,80.22 436.40,82.00 C436.42,83.78 436.58,84.87 437.30,87.00 C438.02,89.13 439.67,92.32 440.70,94.80 C441.73,97.28 442.75,99.87 443.50,101.90 C444.25,103.93 444.77,105.25 445.20,107.00 C445.63,108.75 446.02,110.47 446.10,112.40 C446.18,114.33 446.03,116.53 445.70,118.60 C445.37,120.67 444.40,123.23 444.10,124.80 C443.80,126.37 444.15,126.70 443.90,128.00 C443.65,129.30 443.35,130.80 442.60,132.60 C441.85,134.40 440.48,136.73 439.40,138.80 C438.32,140.87 437.03,142.93 436.10,145.00 C435.17,147.07 434.43,149.40 433.80,151.20 C433.17,153.00 432.55,155.03 432.30,155.80 L432.30,155.80 C432.05,155.03 431.43,153.00 430.80,151.20 C430.17,149.40 429.43,147.07 428.50,145.00 C427.57,142.93 426.28,140.87 425.20,138.80 C424.12,136.73 422.75,134.40 422.00,132.60 C421.25,130.80 420.95,129.30 420.70,128.00 C420.45,126.70 420.80,126.37 420.50,124.80 C420.20,123.23 419.23,120.67 418.90,118.60 C418.57,116.53 418.42,114.33 418.50,112.40 C418.58,110.47 418.97,108.75 419.40,107.00 C419.83,105.25 420.35,103.93 421.10,101.90 C421.85,99.87 422.87,97.28 423.90,94.80 C424.93,92.32 426.58,89.13 427.30,87.00 C428.02,84.87 428.18,83.78 428.20,82.00 C428.22,80.22 427.52,78.43 427.40,76.30 C427.28,74.17 427.23,71.57 427.50,69.20 C427.77,66.83 428.47,64.20 429.00,62.10 C429.53,60.00 430.42,57.52 430.70,56.60 Z" fill="none" stroke="#2a1ad8" stroke-width="1.7" stroke-linejoin="round"/>
<path d="M478.05,85.00 L481.55,85.00 C481.56,85.88 481.41,88.55 481.60,90.30 C481.79,92.05 482.33,93.77 482.70,95.50 C483.07,97.23 483.35,98.98 483.80,100.70 C484.25,102.42 484.62,104.08 485.40,105.80 C486.18,107.52 487.38,109.27 488.50,111.00 C489.62,112.73 491.17,114.70 492.10,116.20 C493.03,117.70 493.82,119.12 494.10,120.00 C494.38,120.88 494.23,120.42 493.80,121.50 C493.37,122.58 492.68,124.70 491.50,126.50 C490.32,128.30 487.83,130.37 486.70,132.30 C485.57,134.23 485.17,136.00 484.70,138.10 C484.23,140.20 484.08,143.28 483.90,144.90 C483.72,146.52 483.65,147.32 483.60,147.80 L476.00,147.80 C475.95,147.32 475.88,146.52 475.70,144.90 C475.52,143.28 475.37,140.20 474.90,138.10 C474.43,136.00 474.03,134.23 472.90,132.30 C471.77,130.37 469.28,128.30 468.10,126.50 C466.92,124.70 466.23,122.58 465.80,121.50 C465.37,120.42 465.22,120.88 465.50,120.00 C465.78,119.12 466.57,117.70 467.50,116.20 C468.43,114.70 469.98,112.73 471.10,111.00 C472.22,109.27 473.42,107.52 474.20,105.80 C474.98,104.08 475.35,102.42 475.80,100.70 C476.25,98.98 476.53,97.23 476.90,95.50 C477.27,93.77 477.81,92.05 478.00,90.30 C478.19,88.55 478.04,85.88 478.05,85.00 Z" fill="none" stroke="#ad1c22" stroke-width="1.7" stroke-linejoin="round"/>
<line x1="418.50" y1="112.40" x2="446.10" y2="112.40" stroke="#2a1ad8" stroke-width="1.2"/>
<line x1="421.47" y1="127.50" x2="443.13" y2="127.50" stroke="#2a1ad8" stroke-width="0.9" stroke-dasharray="0.9 1.3"/>
<line x1="424.42" y1="95.50" x2="440.18" y2="95.50" stroke="#2a1ad8" stroke-width="0.9" stroke-dasharray="0.9 1.3"/>
<line x1="465.72" y1="121.10" x2="493.88" y2="121.10" stroke="#ad1c22" stroke-width="1.2"/>
<line x1="470.79" y1="112.60" x2="488.81" y2="112.60" stroke="#ad1c22" stroke-width="0.9" stroke-dasharray="0.9 1.3"/>
<line x1="472.96" y1="131.40" x2="486.64" y2="131.40" stroke="#ad1c22" stroke-width="0.9" stroke-dasharray="0.9 1.3"/>
<line x1="573.90" y1="32.25" x2="573.90" y2="159.65" stroke="#000" stroke-width="1.3"/>
<line x1="573.25" y1="159.00" x2="684.50" y2="159.00" stroke="#000" stroke-width="1.3"/>
<line x1="568.90" y1="159.00" x2="573.90" y2="159.00" stroke="#000" stroke-width="1.3"/>
<text class="k" x="567.10" y="162.10" font-size="9.4" font-weight="bold" text-anchor="end" fill="#000">0</text>
<line x1="568.90" y1="133.78" x2="573.90" y2="133.78" stroke="#000" stroke-width="1.3"/>
<text class="k" x="567.10" y="136.88" font-size="9.4" font-weight="bold" text-anchor="end" fill="#000">2</text>
<line x1="568.90" y1="108.56" x2="573.90" y2="108.56" stroke="#000" stroke-width="1.3"/>
<text class="k" x="567.10" y="111.66" font-size="9.4" font-weight="bold" text-anchor="end" fill="#000">4</text>
<line x1="568.90" y1="83.34" x2="573.90" y2="83.34" stroke="#000" stroke-width="1.3"/>
<text class="k" x="567.10" y="86.44" font-size="9.4" font-weight="bold" text-anchor="end" fill="#000">6</text>
<line x1="568.90" y1="58.12" x2="573.90" y2="58.12" stroke="#000" stroke-width="1.3"/>
<text class="k" x="567.10" y="61.22" font-size="9.4" font-weight="bold" text-anchor="end" fill="#000">8</text>
<line x1="568.90" y1="32.90" x2="573.90" y2="32.90" stroke="#000" stroke-width="1.3"/>
<text class="k" x="567.10" y="36.00" font-size="9.4" font-weight="bold" text-anchor="end" fill="#000">10</text>
<line x1="605.30" y1="159.00" x2="605.30" y2="164.00" stroke="#000" stroke-width="1.3"/>
<line x1="652.30" y1="159.00" x2="652.30" y2="164.00" stroke="#000" stroke-width="1.3"/>
<text class="k" x="607.90" y="172.20" font-size="9.5" font-weight="bold" text-anchor="middle" fill="#000">no BRL</text>
<text class="k" x="654.60" y="172.20" font-size="9.5" font-weight="bold" text-anchor="middle" fill="#000">≥ 1BRL</text>
<text class="k" x="550.00" y="95.80" font-size="9.5" font-weight="bold" text-anchor="middle" fill="#000" transform="rotate(-90 550.0 95.8)">ARMSS (based on EDSS6)</text>
<polyline points="605.2,31.4 605.2,24.2 652.2,24.2 652.2,31.4" fill="none" stroke="#000" stroke-width="1.3"/>
<text x="617.30" y="22.44" font-size="12.8" font-weight="bold" text-anchor="middle" fill="#000" style="font-family:'DejaVu Sans',sans-serif">*</text>
<text x="624.90" y="22.44" font-size="12.8" font-weight="bold" text-anchor="middle" fill="#000" style="font-family:'DejaVu Sans',sans-serif">*</text>
<text x="632.50" y="22.44" font-size="12.8" font-weight="bold" text-anchor="middle" fill="#000" style="font-family:'DejaVu Sans',sans-serif">*</text>
<text x="640.10" y="22.44" font-size="12.8" font-weight="bold" text-anchor="middle" fill="#000" style="font-family:'DejaVu Sans',sans-serif">*</text>
<circle cx="603.10" cy="44.00" r="1.0" fill="#111"/>
<circle cx="605.30" cy="44.00" r="1.0" fill="#111"/>
<circle cx="607.50" cy="44.00" r="1.0" fill="#111"/>
<circle cx="604.20" cy="45.60" r="1.0" fill="#111"/>
<circle cx="606.40" cy="45.60" r="1.0" fill="#111"/>
<circle cx="604.20" cy="48.50" r="1.0" fill="#111"/>
<circle cx="606.40" cy="48.50" r="1.0" fill="#111"/>
<circle cx="604.20" cy="50.10" r="1.0" fill="#111"/>
<circle cx="606.40" cy="50.10" r="1.0" fill="#111"/>
<circle cx="604.20" cy="51.70" r="1.0" fill="#111"/>
<circle cx="606.40" cy="51.70" r="1.0" fill="#111"/>
<circle cx="604.20" cy="53.30" r="1.0" fill="#111"/>
<circle cx="606.40" cy="53.30" r="1.0" fill="#111"/>
<circle cx="604.20" cy="54.90" r="1.0" fill="#111"/>
<circle cx="606.40" cy="54.90" r="1.0" fill="#111"/>
<circle cx="604.20" cy="56.50" r="1.0" fill="#111"/>
<circle cx="606.40" cy="56.50" r="1.0" fill="#111"/>
<circle cx="604.20" cy="58.10" r="1.0" fill="#111"/>
<circle cx="606.40" cy="58.10" r="1.0" fill="#111"/>
<circle cx="604.20" cy="59.70" r="1.0" fill="#111"/>
<circle cx="606.40" cy="59.70" r="1.0" fill="#111"/>
<circle cx="600.90" cy="50.00" r="1.0" fill="#111"/>
<circle cx="603.10" cy="50.00" r="1.0" fill="#111"/>
<circle cx="605.30" cy="50.00" r="1.0" fill="#111"/>
<circle cx="607.50" cy="50.00" r="1.0" fill="#111"/>
<circle cx="609.70" cy="50.00" r="1.0" fill="#111"/>
<circle cx="598.70" cy="52.50" r="1.0" fill="#111"/>
<circle cx="600.90" cy="52.50" r="1.0" fill="#111"/>
<circle cx="603.10" cy="52.50" r="1.0" fill="#111"/>
<circle cx="605.30" cy="52.50" r="1.0" fill="#111"/>
<circle cx="607.50" cy="52.50" r="1.0" fill="#111"/>
<circle cx="609.70" cy="52.50" r="1.0" fill="#111"/>
<circle cx="611.90" cy="52.50" r="1.0" fill="#111"/>
<circle cx="600.90" cy="55.00" r="1.0" fill="#111"/>
<circle cx="603.10" cy="55.00" r="1.0" fill="#111"/>
<circle cx="605.30" cy="55.00" r="1.0" fill="#111"/>
<circle cx="607.50" cy="55.00" r="1.0" fill="#111"/>
<circle cx="609.70" cy="55.00" r="1.0" fill="#111"/>
<circle cx="596.50" cy="57.50" r="1.0" fill="#111"/>
<circle cx="598.70" cy="57.50" r="1.0" fill="#111"/>
<circle cx="600.90" cy="57.50" r="1.0" fill="#111"/>
<circle cx="603.10" cy="57.50" r="1.0" fill="#111"/>
<circle cx="605.30" cy="57.50" r="1.0" fill="#111"/>
<circle cx="607.50" cy="57.50" r="1.0" fill="#111"/>
<circle cx="609.70" cy="57.50" r="1.0" fill="#111"/>
<circle cx="611.90" cy="57.50" r="1.0" fill="#111"/>
<circle cx="614.10" cy="57.50" r="1.0" fill="#111"/>
<circle cx="603.10" cy="62.00" r="1.0" fill="#111"/>
<circle cx="605.30" cy="62.00" r="1.0" fill="#111"/>
<circle cx="607.50" cy="62.00" r="1.0" fill="#111"/>
<circle cx="605.30" cy="64.50" r="1.0" fill="#111"/>
<circle cx="604.20" cy="66.10" r="1.0" fill="#111"/>
<circle cx="606.40" cy="66.10" r="1.0" fill="#111"/>
<circle cx="603.10" cy="67.70" r="1.0" fill="#111"/>
<circle cx="605.30" cy="67.70" r="1.0" fill="#111"/>
<circle cx="607.50" cy="67.70" r="1.0" fill="#111"/>
<circle cx="600.90" cy="70.20" r="1.0" fill="#111"/>
<circle cx="603.10" cy="70.20" r="1.0" fill="#111"/>
<circle cx="605.30" cy="70.20" r="1.0" fill="#111"/>
<circle cx="607.50" cy="70.20" r="1.0" fill="#111"/>
<circle cx="609.70" cy="70.20" r="1.0" fill="#111"/>
<circle cx="603.10" cy="74.00" r="1.0" fill="#111"/>
<circle cx="605.30" cy="74.00" r="1.0" fill="#111"/>
<circle cx="607.50" cy="74.00" r="1.0" fill="#111"/>
<circle cx="603.10" cy="76.50" r="1.0" fill="#111"/>
<circle cx="605.30" cy="76.50" r="1.0" fill="#111"/>
<circle cx="607.50" cy="76.50" r="1.0" fill="#111"/>
<circle cx="604.20" cy="78.00" r="1.0" fill="#111"/>
<circle cx="606.40" cy="78.00" r="1.0" fill="#111"/>
<circle cx="603.10" cy="79.50" r="1.0" fill="#111"/>
<circle cx="605.30" cy="79.50" r="1.0" fill="#111"/>
<circle cx="607.50" cy="79.50" r="1.0" fill="#111"/>
<circle cx="598.70" cy="81.50" r="1.0" fill="#111"/>
<circle cx="600.90" cy="81.50" r="1.0" fill="#111"/>
<circle cx="603.10" cy="81.50" r="1.0" fill="#111"/>
<circle cx="605.30" cy="81.50" r="1.0" fill="#111"/>
<circle cx="607.50" cy="81.50" r="1.0" fill="#111"/>
<circle cx="609.70" cy="81.50" r="1.0" fill="#111"/>
<circle cx="611.90" cy="81.50" r="1.0" fill="#111"/>
<circle cx="603.10" cy="83.50" r="1.0" fill="#111"/>
<circle cx="605.30" cy="83.50" r="1.0" fill="#111"/>
<circle cx="607.50" cy="83.50" r="1.0" fill="#111"/>
<circle cx="598.70" cy="85.50" r="1.0" fill="#111"/>
<circle cx="600.90" cy="85.50" r="1.0" fill="#111"/>
<circle cx="603.10" cy="85.50" r="1.0" fill="#111"/>
<circle cx="605.30" cy="85.50" r="1.0" fill="#111"/>
<circle cx="607.50" cy="85.50" r="1.0" fill="#111"/>
<circle cx="609.70" cy="85.50" r="1.0" fill="#111"/>
<circle cx="611.90" cy="85.50" r="1.0" fill="#111"/>
<circle cx="605.30" cy="88.50" r="1.0" fill="#111"/>
<circle cx="603.10" cy="91.00" r="1.0" fill="#111"/>
<circle cx="605.30" cy="91.00" r="1.0" fill="#111"/>
<circle cx="607.50" cy="91.00" r="1.0" fill="#111"/>
<circle cx="604.20" cy="92.50" r="1.0" fill="#111"/>
<circle cx="606.40" cy="92.50" r="1.0" fill="#111"/>
<circle cx="603.10" cy="94.00" r="1.0" fill="#111"/>
<circle cx="605.30" cy="94.00" r="1.0" fill="#111"/>
<circle cx="607.50" cy="94.00" r="1.0" fill="#111"/>
<circle cx="605.30" cy="96.00" r="1.0" fill="#111"/>
<circle cx="603.10" cy="98.50" r="1.0" fill="#111"/>
<circle cx="605.30" cy="98.50" r="1.0" fill="#111"/>
<circle cx="607.50" cy="98.50" r="1.0" fill="#111"/>
<circle cx="604.20" cy="100.00" r="1.0" fill="#111"/>
<circle cx="606.40" cy="100.00" r="1.0" fill="#111"/>
<circle cx="603.10" cy="101.50" r="1.0" fill="#111"/>
<circle cx="605.30" cy="101.50" r="1.0" fill="#111"/>
<circle cx="607.50" cy="101.50" r="1.0" fill="#111"/>
<circle cx="604.20" cy="103.00" r="1.0" fill="#111"/>
<circle cx="606.40" cy="103.00" r="1.0" fill="#111"/>
<circle cx="605.30" cy="104.50" r="1.0" fill="#111"/>
<circle cx="603.10" cy="107.50" r="1.0" fill="#111"/>
<circle cx="605.30" cy="107.50" r="1.0" fill="#111"/>
<circle cx="607.50" cy="107.50" r="1.0" fill="#111"/>
<circle cx="605.30" cy="110.50" r="1.0" fill="#111"/>
<circle cx="604.20" cy="112.00" r="1.0" fill="#111"/>
<circle cx="606.40" cy="112.00" r="1.0" fill="#111"/>
<circle cx="592.10" cy="115.70" r="1.0" fill="#111"/>
<circle cx="594.30" cy="115.70" r="1.0" fill="#111"/>
<circle cx="596.50" cy="115.70" r="1.0" fill="#111"/>
<circle cx="598.70" cy="115.70" r="1.0" fill="#111"/>
<circle cx="600.90" cy="115.70" r="1.0" fill="#111"/>
<circle cx="603.10" cy="115.70" r="1.0" fill="#111"/>
<circle cx="605.30" cy="115.70" r="1.0" fill="#111"/>
<circle cx="607.50" cy="115.70" r="1.0" fill="#111"/>
<circle cx="609.70" cy="115.70" r="1.0" fill="#111"/>
<circle cx="611.90" cy="115.70" r="1.0" fill="#111"/>
<circle cx="614.10" cy="115.70" r="1.0" fill="#111"/>
<circle cx="616.30" cy="115.70" r="1.0" fill="#111"/>
<circle cx="618.50" cy="115.70" r="1.0" fill="#111"/>
<circle cx="651.10" cy="39.50" r="1.0" fill="#111"/>
<circle cx="653.30" cy="39.50" r="1.0" fill="#111"/>
<circle cx="651.10" cy="41.00" r="1.0" fill="#111"/>
<circle cx="653.30" cy="41.00" r="1.0" fill="#111"/>
<circle cx="651.10" cy="42.50" r="1.0" fill="#111"/>
<circle cx="653.30" cy="42.50" r="1.0" fill="#111"/>
<circle cx="651.10" cy="44.00" r="1.0" fill="#111"/>
<circle cx="653.30" cy="44.00" r="1.0" fill="#111"/>
<circle cx="651.10" cy="45.50" r="1.0" fill="#111"/>
<circle cx="653.30" cy="45.50" r="1.0" fill="#111"/>
<circle cx="650.00" cy="49.50" r="1.0" fill="#111"/>
<circle cx="652.20" cy="49.50" r="1.0" fill="#111"/>
<circle cx="654.40" cy="49.50" r="1.0" fill="#111"/>
<circle cx="647.80" cy="53.00" r="1.0" fill="#111"/>
<circle cx="650.00" cy="53.00" r="1.0" fill="#111"/>
<circle cx="652.20" cy="53.00" r="1.0" fill="#111"/>
<circle cx="654.40" cy="53.00" r="1.0" fill="#111"/>
<circle cx="656.60" cy="53.00" r="1.0" fill="#111"/>
<circle cx="650.00" cy="56.50" r="1.0" fill="#111"/>
<circle cx="652.20" cy="56.50" r="1.0" fill="#111"/>
<circle cx="654.40" cy="56.50" r="1.0" fill="#111"/>
<circle cx="651.10" cy="58.20" r="1.0" fill="#111"/>
<circle cx="653.30" cy="58.20" r="1.0" fill="#111"/>
<circle cx="652.20" cy="59.90" r="1.0" fill="#111"/>
<circle cx="652.20" cy="64.50" r="1.0" fill="#111"/>
<circle cx="652.20" cy="68.00" r="1.0" fill="#111"/>
<circle cx="652.20" cy="69.60" r="1.0" fill="#111"/>
<circle cx="652.20" cy="71.20" r="1.0" fill="#111"/>
<circle cx="652.20" cy="75.00" r="1.0" fill="#111"/>
<circle cx="652.20" cy="77.00" r="1.0" fill="#111"/>
<circle cx="652.20" cy="80.30" r="1.0" fill="#111"/>
<circle cx="652.20" cy="83.40" r="1.0" fill="#111"/>
<circle cx="652.20" cy="86.50" r="1.0" fill="#111"/>
<circle cx="652.20" cy="89.60" r="1.0" fill="#111"/>
<circle cx="600.80" cy="49.00" r="1.0" fill="#111"/>
<circle cx="600.80" cy="51.20" r="1.0" fill="#111"/>
<circle cx="600.80" cy="53.40" r="1.0" fill="#111"/>
<circle cx="600.80" cy="55.60" r="1.0" fill="#111"/>
<circle cx="600.80" cy="57.80" r="1.0" fill="#111"/>
<circle cx="600.80" cy="60.00" r="1.0" fill="#111"/>
<circle cx="609.80" cy="49.00" r="1.0" fill="#111"/>
<circle cx="609.80" cy="51.20" r="1.0" fill="#111"/>
<circle cx="609.80" cy="53.40" r="1.0" fill="#111"/>
<circle cx="609.80" cy="55.60" r="1.0" fill="#111"/>
<circle cx="609.80" cy="57.80" r="1.0" fill="#111"/>
<circle cx="609.80" cy="60.00" r="1.0" fill="#111"/>
<path d="M603.00,39.20 L607.60,39.20 C608.02,39.73 609.02,41.08 610.10,42.40 C611.18,43.72 612.78,45.28 614.10,47.10 C615.42,48.92 617.17,51.48 618.00,53.30 C618.83,55.12 619.12,56.18 619.10,58.00 C619.08,59.82 618.27,62.40 617.90,64.20 C617.53,66.00 617.08,67.50 616.90,68.80 C616.72,70.10 616.87,70.18 616.80,72.00 C616.73,73.82 616.68,77.85 616.50,79.70 C616.32,81.55 616.13,81.88 615.70,83.10 C615.27,84.32 614.55,85.70 613.90,87.00 C613.25,88.30 612.18,89.22 611.80,90.90 C611.42,92.58 611.52,95.03 611.60,97.10 C611.68,99.17 612.38,101.23 612.30,103.30 C612.22,105.37 611.12,107.47 611.10,109.50 C611.08,111.53 612.02,114.50 612.20,115.50 L598.40,115.50 C598.58,114.50 599.52,111.53 599.50,109.50 C599.48,107.47 598.38,105.37 598.30,103.30 C598.22,101.23 598.92,99.17 599.00,97.10 C599.08,95.03 599.18,92.58 598.80,90.90 C598.42,89.22 597.35,88.30 596.70,87.00 C596.05,85.70 595.33,84.32 594.90,83.10 C594.47,81.88 594.28,81.55 594.10,79.70 C593.92,77.85 593.87,73.82 593.80,72.00 C593.73,70.18 593.88,70.10 593.70,68.80 C593.52,67.50 593.07,66.00 592.70,64.20 C592.33,62.40 591.52,59.82 591.50,58.00 C591.48,56.18 591.77,55.12 592.60,53.30 C593.43,51.48 595.18,48.92 596.50,47.10 C597.82,45.28 599.42,43.72 600.50,42.40 C601.58,41.08 602.58,39.73 603.00,39.20 Z" fill="none" stroke="#2a1ad8" stroke-width="1.7" stroke-linejoin="round"/>
<path d="M645.60,38.60 L658.80,38.60 C659.20,38.87 660.55,39.25 661.20,40.20 C661.85,41.15 662.23,43.10 662.70,44.30 C663.17,45.50 663.52,46.37 664.00,47.40 C664.48,48.43 665.22,49.28 665.60,50.50 C665.98,51.72 666.43,53.48 666.30,54.70 C666.17,55.92 665.48,56.77 664.80,57.80 C664.12,58.83 662.98,59.87 662.20,60.90 C661.42,61.93 660.62,62.97 660.10,64.00 C659.58,65.03 659.35,65.90 659.10,67.10 C658.85,68.30 658.98,69.83 658.60,71.20 C658.22,72.57 657.47,74.08 656.80,75.30 C656.13,76.52 655.07,77.63 654.60,78.50 C654.13,79.37 654.12,79.25 654.00,80.50 C653.88,81.75 653.90,84.08 653.90,86.00 C653.90,87.92 654.02,90.63 654.00,92.00 C653.98,93.37 653.83,93.83 653.80,94.20 L650.60,94.20 C650.57,93.83 650.42,93.37 650.40,92.00 C650.38,90.63 650.50,87.92 650.50,86.00 C650.50,84.08 650.52,81.75 650.40,80.50 C650.28,79.25 650.27,79.37 649.80,78.50 C649.33,77.63 648.27,76.52 647.60,75.30 C646.93,74.08 646.18,72.57 645.80,71.20 C645.42,69.83 645.55,68.30 645.30,67.10 C645.05,65.90 644.82,65.03 644.30,64.00 C643.78,62.97 642.98,61.93 642.20,60.90 C641.42,59.87 640.28,58.83 639.60,57.80 C638.92,56.77 638.23,55.92 638.10,54.70 C637.97,53.48 638.42,51.72 638.80,50.50 C639.18,49.28 639.92,48.43 640.40,47.40 C640.88,46.37 641.23,45.50 641.70,44.30 C642.17,43.10 642.55,41.15 643.20,40.20 C643.85,39.25 645.20,38.87 645.60,38.60 Z" fill="none" stroke="#ad1c22" stroke-width="1.7" stroke-linejoin="round"/>
<line x1="593.80" y1="71.90" x2="616.80" y2="71.90" stroke="#2a1ad8" stroke-width="1.2"/>
<line x1="593.40" y1="53.30" x2="617.20" y2="53.30" stroke="#2a1ad8" stroke-width="0.9" stroke-dasharray="0.9 1.3"/>
<line x1="598.85" y1="89.50" x2="611.75" y2="89.50" stroke="#2a1ad8" stroke-width="0.9" stroke-dasharray="0.9 1.3"/>
<line x1="638.10" y1="54.70" x2="666.30" y2="54.70" stroke="#ad1c22" stroke-width="1.2"/>
<line x1="641.28" y1="47.20" x2="663.12" y2="47.20" stroke="#ad1c22" stroke-width="0.9" stroke-dasharray="0.9 1.3"/>
<line x1="645.81" y1="66.20" x2="658.59" y2="66.20" stroke="#ad1c22" stroke-width="0.9" stroke-dasharray="0.9 1.3"/>
<line x1="34.50" y1="258.90" x2="34.50" y2="372.45" stroke="#000" stroke-width="1.3"/>
<line x1="33.85" y1="371.80" x2="110.70" y2="371.80" stroke="#000" stroke-width="1.3"/>
<line x1="29.90" y1="371.80" x2="34.50" y2="371.80" stroke="#000" stroke-width="1.3"/>
<text class="k" x="28.50" y="374.80" font-size="8.3" font-weight="bold" text-anchor="end" fill="#000">0</text>
<line x1="29.90" y1="349.22" x2="34.50" y2="349.22" stroke="#000" stroke-width="1.3"/>
<text class="k" x="28.50" y="352.22" font-size="8.3" font-weight="bold" text-anchor="end" fill="#000">20</text>
<line x1="29.90" y1="326.64" x2="34.50" y2="326.64" stroke="#000" stroke-width="1.3"/>
<text class="k" x="28.50" y="329.64" font-size="8.3" font-weight="bold" text-anchor="end" fill="#000">40</text>
<line x1="29.90" y1="304.06" x2="34.50" y2="304.06" stroke="#000" stroke-width="1.3"/>
<text class="k" x="28.50" y="307.06" font-size="8.3" font-weight="bold" text-anchor="end" fill="#000">60</text>
<line x1="29.90" y1="281.48" x2="34.50" y2="281.48" stroke="#000" stroke-width="1.3"/>
<text class="k" x="28.50" y="284.48" font-size="8.3" font-weight="bold" text-anchor="end" fill="#000">80</text>
<line x1="29.90" y1="258.90" x2="34.50" y2="258.90" stroke="#000" stroke-width="1.3"/>
<text class="k" x="28.50" y="261.90" font-size="8.3" font-weight="bold" text-anchor="end" fill="#000">100</text>
<text class="k" x="8.60" y="315.30" font-size="9.4" font-weight="bold" text-anchor="middle" fill="#000" transform="rotate(-90 8.6 315.3)">percentage donors</text>
<text class="k" x="72.70" y="222.00" font-size="10.8" font-weight="bold" text-anchor="middle" fill="#000">rs10191329</text>
<text x="72.80" y="232.40" font-size="8.6" text-anchor="middle" fill="#3a3a3a">(DYSF–ZNF638)</text>
<line x1="55.00" y1="250.40" x2="92.00" y2="250.40" stroke="#000" stroke-width="1.4"/>
<line x1="55.00" y1="247.20" x2="55.00" y2="253.80" stroke="#000" stroke-width="1.4"/>
<line x1="92.00" y1="247.20" x2="92.00" y2="253.80" stroke="#000" stroke-width="1.4"/>
<text x="73.50" y="248.62" font-size="10.5" font-weight="bold" text-anchor="middle" fill="#000" style="font-family:'DejaVu Sans',sans-serif">*</text>
<rect x="47.00" y="287.90" width="19.00" height="84.30" fill="#a0a0f4" stroke="#000" stroke-width="1.35"/>
<rect x="47.00" y="267.46" width="19.00" height="20.44" fill="#ef9a45" stroke="#000" stroke-width="1.35"/>
<rect x="47.00" y="259.80" width="19.00" height="7.66" fill="#a9e4ad" stroke="#000" stroke-width="1.35"/>
<text x="56.50" y="362.60" font-size="9.0" text-anchor="middle" fill="#fff" fill-opacity="0.88">33</text>
<text x="56.50" y="282.60" font-size="9.0" text-anchor="middle" fill="#fff" fill-opacity="0.88">8</text>
<text x="56.50" y="266.90" font-size="9.0" text-anchor="middle" fill="#fff" fill-opacity="0.88">3</text>
<rect x="79.20" y="298.61" width="19.10" height="73.59" fill="#a0a0f4" stroke="#000" stroke-width="1.35"/>
<rect x="79.20" y="260.61" width="19.10" height="38.01" fill="#ef9a45" stroke="#000" stroke-width="1.35"/>
<rect x="79.20" y="259.80" width="19.10" height="0.81" fill="#a9e4ad" stroke="#000" stroke-width="1.35"/>
<text x="88.75" y="362.60" font-size="9.0" text-anchor="middle" fill="#fff" fill-opacity="0.88">91</text>
<text x="88.75" y="282.60" font-size="9.0" text-anchor="middle" fill="#fff" fill-opacity="0.88">47</text>
<text x="88.75" y="267.50" font-size="9.0" text-anchor="middle" fill="#fff" fill-opacity="0.88">1</text>
<line x1="56.50" y1="371.80" x2="56.50" y2="376.40" stroke="#000" stroke-width="1.3"/>
<line x1="88.50" y1="371.80" x2="88.50" y2="376.40" stroke="#000" stroke-width="1.3"/>
<text class="k" x="52.50" y="385.60" font-size="8.6" font-weight="bold" text-anchor="middle" fill="#000">≥ 1BRL</text>
<text class="k" x="91.70" y="385.60" font-size="8.6" font-weight="bold" text-anchor="middle" fill="#000">no BRL</text>
<rect x="112.90" y="284.20" width="9.9" height="4.0" fill="#a0a0f4" stroke="#000" stroke-width="1.3"/>
<text x="129.60" y="289.50" font-size="8.6" text-anchor="start" fill="#333">C:C</text>
<rect x="112.90" y="298.40" width="9.9" height="4.0" fill="#ef9a45" stroke="#000" stroke-width="1.3"/>
<text x="129.60" y="303.70" font-size="8.6" text-anchor="start" fill="#333">C:A</text>
<rect x="112.90" y="312.60" width="9.9" height="4.0" fill="#a9e4ad" stroke="#000" stroke-width="1.3"/>
<text x="129.60" y="317.90" font-size="8.6" text-anchor="start" fill="#333">A:A</text>
<line x1="217.70" y1="258.90" x2="217.70" y2="372.45" stroke="#000" stroke-width="1.3"/>
<line x1="217.05" y1="371.80" x2="293.90" y2="371.80" stroke="#000" stroke-width="1.3"/>
<line x1="213.10" y1="371.80" x2="217.70" y2="371.80" stroke="#000" stroke-width="1.3"/>
<text class="k" x="211.70" y="374.80" font-size="8.3" font-weight="bold" text-anchor="end" fill="#000">0</text>
<line x1="213.10" y1="349.22" x2="217.70" y2="349.22" stroke="#000" stroke-width="1.3"/>
<text class="k" x="211.70" y="352.22" font-size="8.3" font-weight="bold" text-anchor="end" fill="#000">20</text>
<line x1="213.10" y1="326.64" x2="217.70" y2="326.64" stroke="#000" stroke-width="1.3"/>
<text class="k" x="211.70" y="329.64" font-size="8.3" font-weight="bold" text-anchor="end" fill="#000">40</text>
<line x1="213.10" y1="304.06" x2="217.70" y2="304.06" stroke="#000" stroke-width="1.3"/>
<text class="k" x="211.70" y="307.06" font-size="8.3" font-weight="bold" text-anchor="end" fill="#000">60</text>
<line x1="213.10" y1="281.48" x2="217.70" y2="281.48" stroke="#000" stroke-width="1.3"/>
<text class="k" x="211.70" y="284.48" font-size="8.3" font-weight="bold" text-anchor="end" fill="#000">80</text>
<line x1="213.10" y1="258.90" x2="217.70" y2="258.90" stroke="#000" stroke-width="1.3"/>
<text class="k" x="211.70" y="261.90" font-size="8.3" font-weight="bold" text-anchor="end" fill="#000">100</text>
<text class="k" x="191.80" y="315.30" font-size="9.4" font-weight="bold" text-anchor="middle" fill="#000" transform="rotate(-90 191.79999999999998 315.3)">percentage donors</text>
<text class="k" x="255.90" y="222.00" font-size="10.8" font-weight="bold" text-anchor="middle" fill="#000">rs3135388</text>
<text x="256.00" y="232.40" font-size="8.6" text-anchor="middle" fill="#3a3a3a">(HLA-DRB1*1501)</text>
<line x1="238.20" y1="250.40" x2="271.90" y2="250.40" stroke="#000" stroke-width="1.4"/>
<line x1="238.20" y1="247.20" x2="238.20" y2="253.80" stroke="#000" stroke-width="1.4"/>
<line x1="271.90" y1="247.20" x2="271.90" y2="253.80" stroke="#000" stroke-width="1.4"/>
<text x="255.05" y="245.60" font-size="9.3" text-anchor="middle" fill="#222">ns</text>
<rect x="230.20" y="305.78" width="19.00" height="66.42" fill="#a0a0f4" stroke="#000" stroke-width="1.35"/>
<rect x="230.20" y="264.91" width="19.00" height="40.87" fill="#ef9a45" stroke="#000" stroke-width="1.35"/>
<rect x="230.20" y="259.80" width="19.00" height="5.11" fill="#a9e4ad" stroke="#000" stroke-width="1.35"/>
<text x="239.70" y="362.60" font-size="9.0" text-anchor="middle" fill="#fff" fill-opacity="0.88">13</text>
<text x="239.70" y="293.20" font-size="9.0" text-anchor="middle" fill="#fff" fill-opacity="0.88">8</text>
<text x="239.70" y="266.20" font-size="9.0" text-anchor="middle" fill="#fff" fill-opacity="0.88">1</text>
<rect x="262.40" y="314.39" width="19.10" height="57.81" fill="#a0a0f4" stroke="#000" stroke-width="1.35"/>
<rect x="262.40" y="263.01" width="19.10" height="51.38" fill="#ef9a45" stroke="#000" stroke-width="1.35"/>
<rect x="262.40" y="259.80" width="19.10" height="3.21" fill="#a9e4ad" stroke="#000" stroke-width="1.35"/>
<text x="271.95" y="362.60" font-size="9.0" text-anchor="middle" fill="#fff" fill-opacity="0.88">36</text>
<text x="271.95" y="293.20" font-size="9.0" text-anchor="middle" fill="#fff" fill-opacity="0.88">32</text>
<text x="271.95" y="266.20" font-size="9.0" text-anchor="middle" fill="#fff" fill-opacity="0.88">2</text>
<line x1="239.70" y1="371.80" x2="239.70" y2="376.40" stroke="#000" stroke-width="1.3"/>
<line x1="271.70" y1="371.80" x2="271.70" y2="376.40" stroke="#000" stroke-width="1.3"/>
<text class="k" x="234.70" y="385.60" font-size="8.6" font-weight="bold" text-anchor="middle" fill="#000">≥ 1BRL</text>
<text class="k" x="274.30" y="385.60" font-size="8.6" font-weight="bold" text-anchor="middle" fill="#000">no BRL</text>
<rect x="296.10" y="284.20" width="9.9" height="4.0" fill="#a0a0f4" stroke="#000" stroke-width="1.3"/>
<text x="312.80" y="289.50" font-size="8.6" text-anchor="start" fill="#333">C:C</text>
<rect x="296.10" y="298.40" width="9.9" height="4.0" fill="#ef9a45" stroke="#000" stroke-width="1.3"/>
<text x="312.80" y="303.70" font-size="8.6" text-anchor="start" fill="#333">C:T</text>
<rect x="296.10" y="312.60" width="9.9" height="4.0" fill="#a9e4ad" stroke="#000" stroke-width="1.3"/>
<text x="312.80" y="317.90" font-size="8.6" text-anchor="start" fill="#333">T:T</text>
</svg>
</body></html>
